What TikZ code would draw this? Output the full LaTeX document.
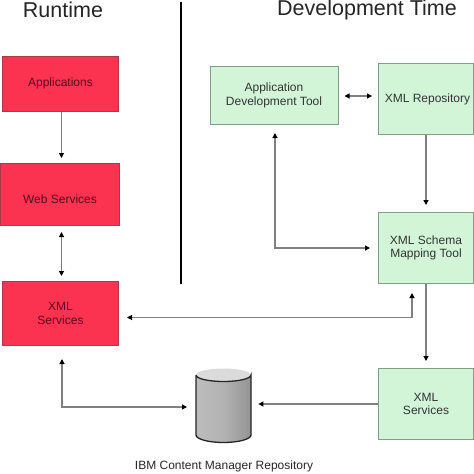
\documentclass[tikz,border=0pt]{standalone}
\usepackage{fontspec}
\setmainfont{Liberation Sans}
\usetikzlibrary{arrows.meta,calc}
\definecolor{redfill}{HTML}{FB3350}
\definecolor{redline}{HTML}{A83A4C}
\definecolor{redtext}{HTML}{5A0A1C}
\definecolor{greenfill}{HTML}{D2F5D8}
\definecolor{greenline}{HTML}{7F9F86}
\definecolor{wire}{HTML}{808080}
\tikzset{
  box/.style={draw,line width=1pt,inner sep=0pt,align=center,font=\fontsize{12}{13.7}\selectfont,anchor=north west},
  redbox/.style={box,fill=redfill,draw=redline,text=redtext},
  greenbox/.style={box,fill=greenfill,draw=greenline,text=black!80},
  wirearrow/.style={draw=wire,line width=1.1pt,-{Triangle[length=5pt,width=5pt,color=black]}},
  wireboth/.style={draw=wire,line width=1.1pt,{Triangle[length=5pt,width=5pt,color=black]}-{Triangle[length=5pt,width=5pt,color=black]}},
  title/.style={font=\fontsize{21.5}{24}\selectfont,text=black!85,inner sep=0pt},
  caption/.style={font=\fontsize{12}{14}\selectfont,text=black!85,inner sep=0pt}
}
\begin{document}
\begin{tikzpicture}[x=1pt,y=-1pt]
\useasboundingbox (0,0) rectangle (474,474);
\fill[white] (0,0) rectangle (474,474);
\node[title] (runtime) at (63,10) {Runtime};
\node[title] (devtime) at (367,10) {Development Time};
\node[caption] (repocap) at (224,466) {IBM Content Manager Repository};
\draw[line width=2.4pt,black] (181,2) coordinate (divtop) -- (181,284) coordinate (divbot);
% red boxes
\node[redbox,minimum width=116pt,minimum height=55pt] (apps) at (2,56) {\rule[-4.5pt]{0pt}{9pt}Applications};
\node[redbox,minimum width=119pt,minimum height=62pt] (web) at (0,163) {\rule{0pt}{19pt}Web Services};
\node[redbox,minimum width=116pt,minimum height=64pt] (xmlr) at (2,281) {XML\\Services};
% green boxes
\node[greenbox,minimum width=128pt,minimum height=58.5pt] (adt) at (209.5,65.5) {Application\\Development Tool};
\node[greenbox,minimum width=95pt,minimum height=71pt] (repo) at (378,63) {\hspace*{3pt}XML Repository};
\node[greenbox,minimum width=95pt,minimum height=71pt] (schema) at (378,212) {XML Schema\\Mapping Tool};
\node[greenbox,minimum width=95pt,minimum height=71pt] (xmlg) at (378,368) {XML\\Services};
% cylinder
\shade[left color=black!26,right color=black!42,middle color=black!30] (196,375) -- (196,435)
  arc[start angle=180,end angle=360,x radius=27.5pt,y radius=7.5pt] -- (251,375) -- cycle;
\fill[black!14] (223.5,375) ellipse[x radius=27.5pt,y radius=6.5pt];
\draw[line width=1.3pt,black!85] (196,375) -- (196,435)
  arc[start angle=180,end angle=360,x radius=27.5pt,y radius=7.5pt] -- (251,375)
  arc[start angle=0,end angle=-180,x radius=27.5pt,y radius=6.5pt];
\node[minimum width=55pt,minimum height=75pt,inner sep=0pt,anchor=north west] (db) at (196,368) {};
% connectors
\draw[wirearrow,shorten >=5pt] ([xshift=1pt]apps.south) -- ([xshift=1.5pt]web.north);
\draw[wireboth,shorten <=6pt,shorten >=5pt] ([xshift=1.5pt]web.south) -- ([xshift=1pt]xmlr.north);
\coordinate (xs1) at (412,317.5);
\draw[wireboth,shorten <=8pt,shorten >=9pt] (xmlr.east |- xs1) -- (xs1) -- (schema.south -| xs1);
\coordinate (xd1) at (62,407);
\draw[wireboth,shorten <=13pt,shorten >=9pt] (xmlr.south -| xd1) -- (xd1) -- (db.west |- xd1);
\draw[wirearrow,shorten >=7pt] (xmlg.west |- 0,404) -- (db.east |- 0,404);
\draw[wirearrow,shorten >=7pt] (schema.south) -- (xmlg.north);
\draw[wirearrow,shorten >=7pt] (repo.south) -- (schema.north);
\coordinate (as1) at (275,248);
\draw[wireboth,shorten <=8pt,shorten >=8pt] (adt.south -| as1) -- (as1) -- (schema.west |- as1);
\draw[wireboth,shorten <=6pt,shorten >=6pt] (adt.east |- 0,96) -- (repo.west |- 0,96);
\end{tikzpicture}
\end{document}
